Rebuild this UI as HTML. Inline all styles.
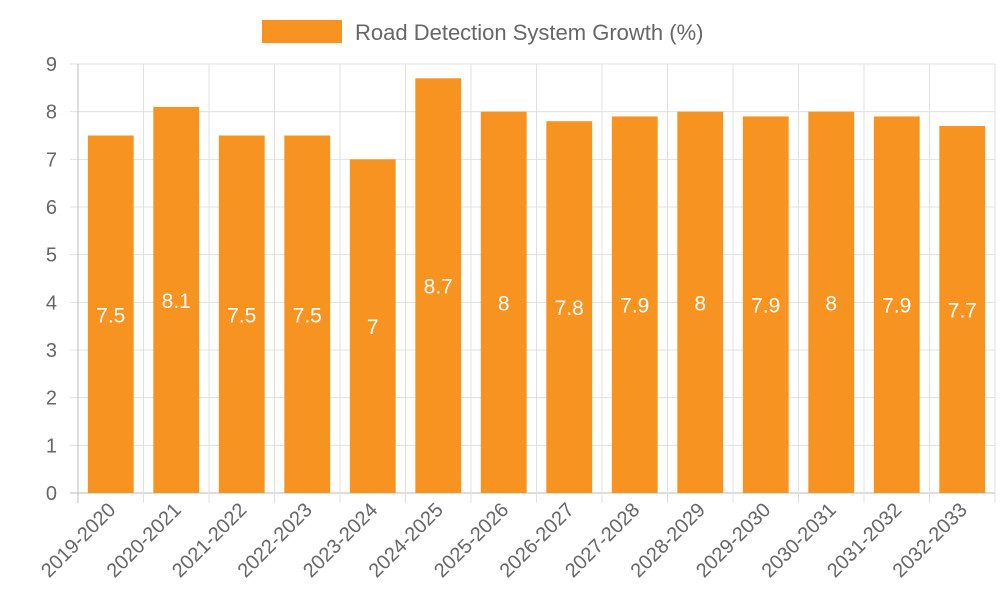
<!DOCTYPE html>
<html><head><meta charset="utf-8"><style>
html,body{margin:0;padding:0;background:#fff;}
svg{display:block;font-family:"Liberation Sans",sans-serif;}
</style></head><body>
<svg id="chart" width="1000" height="600" viewBox="0 0 1000 600" xmlns="http://www.w3.org/2000/svg">
<g id="legend">
<rect x="262" y="20" width="80" height="23" fill="#f79421"/>
<text x="355" y="40" font-size="22" fill="#666">Road Detection System Growth (%)</text>
</g>
<g id="grid"></g><g id="bars"></g><g id="labels"></g>
</svg>
<script>
const categories=["2019-2020","2020-2021","2021-2022","2022-2023","2023-2024","2024-2025","2025-2026","2026-2027","2027-2028","2028-2029","2029-2030","2030-2031","2031-2032","2032-2033"];
const values=[7.5,8.1,7.5,7.5,7,8.7,8,7.8,7.9,8,7.9,8,7.9,7.7];
const yTicks=[0,1,2,3,4,5,6,7,8,9];
const NS="http://www.w3.org/2000/svg";
const L=78,R=995,T=64,B=493,yMax=9;
const bw=(R-L)/categories.length;
const y=v=>B-(v/yMax)*(B-T);
const x=i=>L+i*bw;
function mk(t,a,p){const e=document.createElementNS(NS,t);for(const k in a)e.setAttribute(k,a[k]);p.appendChild(e);return e;}
const grid=document.getElementById('grid'),bars=document.getElementById('bars'),labels=document.getElementById('labels');
yTicks.forEach(v=>{
 const g=mk('line',{x1:70,x2:R,y1:y(v),y2:y(v),stroke:v===0?'#bbb':'#e0e0e0','stroke-width':1},grid);
 
 
 const t=mk('text',{x:57,y:y(v)+7,'font-size':20,fill:'#666','text-anchor':'end'},grid);
 t.textContent=v;
 
 
});
for(let i=0;i<=categories.length;i++){
 const g=mk('line',{x1:x(i),x2:x(i),y1:T,y2:B+10,stroke:i===0?'#bbb':'#e0e0e0','stroke-width':1},grid);
 
 
}
categories.forEach((c,i)=>{
 const cx=x(i)+bw/2,w=bw*0.7;
 const r=mk('rect',{x:cx-w/2,y:y(values[i]),width:w,height:B-y(values[i]),fill:'#f79421'},bars);
 
 
 const t=mk('text',{x:cx,y:(y(values[i])+B)/2+8,'font-size':21,fill:'#fff','text-anchor':'middle'},labels);
 t.textContent=values[i];
 
 
 const xl=mk('text',{x:cx+6,y:B+18,'font-size':20,fill:'#666','text-anchor':'end',transform:`rotate(-45 ${cx+6} ${B+18})`},labels);
 xl.textContent=c;
 
 
});
</script>
</body></html>
